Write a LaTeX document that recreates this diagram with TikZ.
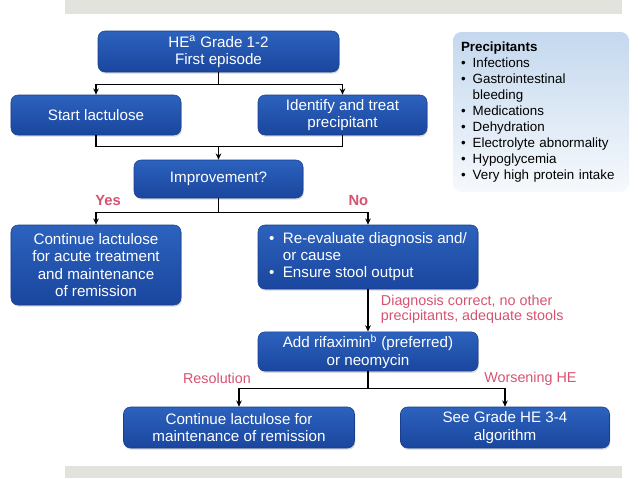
\documentclass[tikz,border=0pt]{standalone}
\usepackage{fontspec}
\setmainfont{Liberation Sans}
\usepackage{xcolor}
\usepackage{tikz}
\usetikzlibrary{positioning,arrows.meta,calc,shadows}
\definecolor{boxtop}{RGB}{44,98,190}
\definecolor{boxbot}{RGB}{26,70,158}
\definecolor{boxline}{RGB}{24,62,140}
\definecolor{labred}{RGB}{214,82,112}
\definecolor{bargray}{RGB}{226,227,221}
\definecolor{softblue}{RGB}{196,216,238}
\definecolor{paleblue}{RGB}{246,249,252}

\begin{document}
\begin{tikzpicture}[
  box/.style={rectangle, rounded corners=5pt, top color=boxtop, bottom color=boxbot, draw=boxline, text=white, align=center, inner sep=2pt, font=\fontsize{10.8}{12.2}\selectfont, drop shadow={shadow xshift=0.6pt, shadow yshift=-1.2pt, opacity=0.3}},
  precipbox/.style={rectangle, rounded corners=6pt, top color=softblue, bottom color=paleblue, minimum width=4.4cm, minimum height=4cm, text width=4cm, inner xsep=0.2cm, align=left, font=\fontsize{9.5}{11.4}\selectfont},
  lab/.style={text=labred, font=\fontsize{10.2}{10.8}\selectfont},
  yn/.style={text=labred, font=\fontsize{10.5}{12}\selectfont\bfseries},
  con/.style={line width=0.8pt},
  arr/.style={con, -{Stealth[length=4.5pt,width=4pt]}}
]
  \useasboundingbox (0,0) rectangle (15.95,-11.975);
  \fill[bargray] (1.625,0) rectangle (15.55,-0.35);
  \fill[bargray] (1.625,-11.65) rectangle (15.55,-11.95);

  \node[box, minimum width=6.025cm, minimum height=1.025cm] (he) at (5.4625,-1.2875) {HE\textsuperscript{a} Grade 1-2\\First episode};
  \node[box, minimum width=4.25cm, minimum height=1cm] (start) at (2.4,-2.875) {Start lactulose};
  \node[box, minimum width=4.225cm, minimum height=1cm] (ident) at (8.5625,-2.875) {Identify and treat\\precipitant};
  \node[box, minimum width=4.225cm, minimum height=0.95cm] (improve) at (5.4625,-4.475) {Improvement?};
  \node[box, minimum width=4.25cm, minimum height=2cm] (contin) at (2.4,-6.625) {Continue lactulose\\for acute treatment\\and maintenance\\of remission};
  \node[box, minimum width=5.5cm, minimum height=1.6cm, align=left] (reeval) at (9.2,-6.425)
       {\begin{tabular}{@{}l@{\hspace{6pt}}l@{}}\textbullet & Re-evaluate diagnosis and/\\ & or cause\\ \textbullet & Ensure stool output\end{tabular}};
  \node[box, minimum width=5.5cm, minimum height=0.975cm] (rifax) at (9.2,-8.7875) {Add rifaximin\textsuperscript{b} (preferred)\\or neomycin};
  \node[box, minimum width=5.775cm, minimum height=1.025cm] (maint) at (5.975,-10.6875) {Continue lactulose for\\maintenance of remission};
  \node[box, minimum width=5.225cm, minimum height=1.025cm] (grade) at (12.625,-10.6875) {See Grade HE 3-4\\algorithm};

  \node[precipbox] (precip) at (13.525,-2.8)
       {\begin{tabular}{@{}l@{\hspace{5pt}}l@{}}\multicolumn{2}{@{}l@{}}{\textbf{Precipitants}}\\
        \textbullet & Infections\\ \textbullet & Gastrointestinal\\ & bleeding\\ \textbullet & Medications\\
        \textbullet & Dehydration\\ \textbullet & Electrolyte abnormality\\ \textbullet & Hypoglycemia\\
        \textbullet & Very high protein intake\end{tabular}};

  \node[yn] (yes) at (2.7,-5.0) {Yes};
  \node[yn] (no) at (8.96,-5.0) {No};
  \node[lab, anchor=west, align=left] (diag) at (9.4,-7.725) {Diagnosis correct, no other\\precipitants, adequate stools};
  \node[lab] (resol) at (5.425,-9.45) {Resolution};
  \node[lab] (worse) at (13.26,-9.475) {Worsening HE};

  \coordinate (j1) at ($(he.south)+(0,-0.3)$);
  \draw[con] (he.south) -- (j1);
  \draw[arr] (j1) -| (start.north);
  \draw[arr] (j1) -| (ident.north);
  \coordinate (j2) at ($(improve.north)+(0,0.32)$);
  \draw[con] (start.south) |- (j2) -| (ident.south);
  \draw[arr] (j2) -- (improve.north);
  \coordinate (j3) at ($(improve.south)+(0,-0.35)$);
  \draw[con] (improve.south) -- (j3);
  \draw[arr] (j3) -| (contin.north);
  \draw[arr] (j3) -| (reeval.north);
  \draw[arr] (reeval.south) -- (rifax.north);
  \coordinate (j4) at ($(rifax.south)+(0,-0.42)$);
  \draw[con] (rifax.south) -- (j4);
  \draw[arr] (j4) -| (maint.north);
  \draw[arr] (j4) -| (grade.north);
\end{tikzpicture}
\end{document}
